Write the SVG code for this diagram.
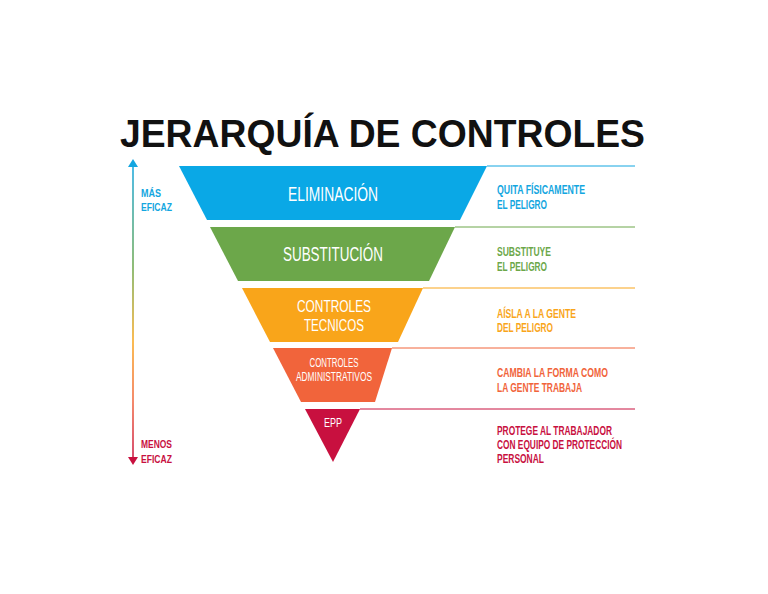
<svg xmlns="http://www.w3.org/2000/svg" width="768" height="594" viewBox="0 0 768 594">
<defs>
<linearGradient id="ag" x1="0" y1="0" x2="0" y2="1"><stop offset="0" stop-color="#13a6e0"/><stop offset="0.35" stop-color="#6ca74a"/><stop offset="0.6" stop-color="#f9a51a"/><stop offset="0.8" stop-color="#f1643b"/><stop offset="1" stop-color="#c8103f"/></linearGradient>
</defs>
<style>
text{font-family:"Liberation Sans",Arial,sans-serif;font-weight:bold}
.t{font-size:38px;fill:#111}
.w{fill:#fff;font-weight:normal;text-anchor:middle}
.r{font-size:12px}
.l{font-size:11px}
</style>
<rect width="768" height="594" fill="#fff"/>
<text class="t" x="120" y="147" textLength="525" lengthAdjust="spacingAndGlyphs">JERARQUÍA DE CONTROLES</text>
<g id="connectors">
<rect x="132.25" y="164" width="1.5" height="296" fill="url(#ag)"/>
<path d="M128,167 L133,159 L138,167 Z" fill="#13a6e0"/>
<path d="M128,457 L133,465 L138,457 Z" fill="#c8103f"/>
<line x1="487" y1="166" x2="635" y2="166" stroke="#13a6e0"/>
<line x1="455" y1="227" x2="635" y2="227" stroke="#6ca74a"/>
<line x1="423" y1="288" x2="635" y2="288" stroke="#f9a51a"/>
<line x1="392" y1="348" x2="635" y2="348" stroke="#f1643b"/>
<line x1="360" y1="409" x2="635" y2="409" stroke="#c8103f"/>
</g>
<g id="axis-labels">
<text class="l" x="141" y="197" fill="#13a6e0" textLength="20" lengthAdjust="spacingAndGlyphs">MÁS</text>
<text class="l" x="141" y="211" fill="#13a6e0" textLength="31" lengthAdjust="spacingAndGlyphs">EFICAZ</text>
<text class="l" x="141" y="448" fill="#c8103f" textLength="31" lengthAdjust="spacingAndGlyphs">MENOS</text>
<text class="l" x="141" y="463" fill="#c8103f" textLength="31" lengthAdjust="spacingAndGlyphs">EFICAZ</text>
</g>
<g id="eliminacion">
<polygon points="179,166 487,166 460,220 207,220" fill="#0aa8e6"/>
<text class="w" x="333" y="201" font-size="21" textLength="90" lengthAdjust="spacingAndGlyphs">ELIMINACIÓN</text>
<text class="r" x="497" y="194" fill="#13a6e0" textLength="88" lengthAdjust="spacingAndGlyphs">QUITA FÍSICAMENTE</text>
<text class="r" x="497" y="209" fill="#13a6e0" textLength="50" lengthAdjust="spacingAndGlyphs">EL PELIGRO</text>
</g>
<g id="substitucion">
<polygon points="210,227 455,227 429,281 238,281" fill="#6ca74a"/>
<text class="w" x="333" y="261" font-size="21" textLength="100" lengthAdjust="spacingAndGlyphs">SUBSTITUCIÓN</text>
<text class="r" x="497" y="256" fill="#6ca74a" textLength="54" lengthAdjust="spacingAndGlyphs">SUBSTITUYE</text>
<text class="r" x="497" y="271" fill="#6ca74a" textLength="50" lengthAdjust="spacingAndGlyphs">EL PELIGRO</text>
</g>
<g id="tecnicos">
<polygon points="242,288 423,288 398,342 270,342" fill="#f9a51a"/>
<text class="w" x="334" y="312" font-size="16" textLength="74" lengthAdjust="spacingAndGlyphs">CONTROLES</text>
<text class="w" x="334" y="331" font-size="16" textLength="60" lengthAdjust="spacingAndGlyphs">TECNICOS</text>
<text class="r" x="497" y="318" fill="#f9a51a" textLength="79" lengthAdjust="spacingAndGlyphs">AÍSLA A LA GENTE</text>
<text class="r" x="497" y="332" fill="#f9a51a" textLength="56" lengthAdjust="spacingAndGlyphs">DEL PELIGRO</text>
</g>
<g id="administrativos">
<polygon points="273,348 392,348 375,402 301,402" fill="#f1643b"/>
<text class="w" x="334" y="367" font-size="12" textLength="49" lengthAdjust="spacingAndGlyphs">CONTROLES</text>
<text class="w" x="334" y="381" font-size="12" textLength="76" lengthAdjust="spacingAndGlyphs">ADMINISTRATIVOS</text>
<text class="r" x="497" y="377" fill="#f1643b" textLength="111" lengthAdjust="spacingAndGlyphs">CAMBIA LA FORMA COMO</text>
<text class="r" x="497" y="392" fill="#f1643b" textLength="85" lengthAdjust="spacingAndGlyphs">LA GENTE TRABAJA</text>
</g>
<g id="epp">
<polygon points="305,409 360,409 333,462" fill="#c8103f"/>
<text class="w" x="333" y="427" font-size="13" textLength="18" lengthAdjust="spacingAndGlyphs">EPP</text>
<text class="r" x="497" y="435" fill="#c8103f" textLength="115" lengthAdjust="spacingAndGlyphs">PROTEGE AL TRABAJADOR</text>
<text class="r" x="497" y="449" fill="#c8103f" textLength="125" lengthAdjust="spacingAndGlyphs">CON EQUIPO DE PROTECCIÓN</text>
<text class="r" x="497" y="463" fill="#c8103f" textLength="47" lengthAdjust="spacingAndGlyphs">PERSONAL</text>
</g>
</svg>
